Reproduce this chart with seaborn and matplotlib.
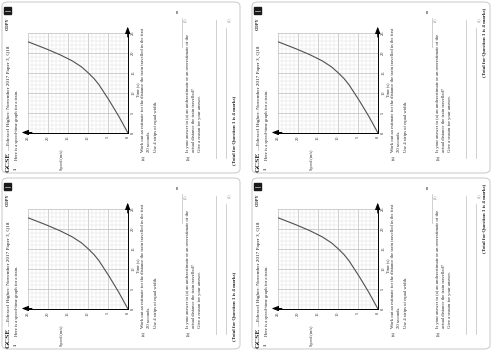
import matplotlib
matplotlib.use("Agg")
import matplotlib.pyplot as plt
import seaborn as sns
from matplotlib.patches import FancyBboxPatch, Rectangle
from matplotlib.lines import Line2D

# ---- data ----
time_s = [0, 2, 4, 6, 8, 10, 12, 13.5, 15, 16.5, 18, 19.5, 21, 22.8]
speed_ms = [0, 1.1, 2.2, 3.4, 4.6, 5.9, 7.2, 8.4, 9.9, 11.6, 13.9, 16.9, 20.4, 25.0]
tick_values = [0, 5, 10, 15, 20, 25]
tick_labels = ["0", "5", "10", "15", "20", "25"]

header_left = "GCSE"
header_main = "Edexcel Higher: November 2017 Paper 3, Q18"
copy_label = "COPY"
q_number = "1"
intro = "Here is a speed-time graph for a train."
xlabel_text = "Speed (m/s)"
ylabel_text = "Time (s)"
part_a = ["Work out an estimate for the distance the train travelled in the first",
          "20 seconds.",
          "Use 4 strips of equal width."]
part_b = ["Is your answer to (a) an underestimate or an overestimate of the",
          "actual distance the train travelled?",
          "Give a reason for your answer."]
total_text = "(Total for Question 1 is 4 marks)"

W, H = 500, 353
fig = plt.figure(figsize=(W / 100, H / 100), dpi=100)
fig.patch.set_facecolor("white")
SERIF = ["Liberation Serif", "DejaVu Serif"]


def fx(x):
    return x / W


def fy(y):
    return 1 - y / H


def T(x, y, s, size=3.3, weight="normal", ha="left", color="#222222"):
    fig.text(fx(x), fy(y), s, rotation=90, rotation_mode="anchor", ha=ha,
             va="center", fontsize=size, fontweight=weight, family=SERIF,
             color=color)


def vline(x, y0, y1, color="#c8c8c8", lw=0.6):
    fig.add_artist(Line2D([fx(x), fx(x)], [fy(y0), fy(y1)], color=color,
                          lw=lw, transform=fig.transFigure))


offsets = [(0, 0), (250, 0), (0, 176), (250, 176)]

for i, (ox, oy) in enumerate(offsets):
    # page border
    fig.add_artist(FancyBboxPatch((fx(ox + 2), fy(oy + 173)),
                                  fx(238), 171 / H,
                                  boxstyle="round,pad=0,rounding_size=0.012",
                                  transform=fig.transFigure, fill=False,
                                  edgecolor="#cfcfcf", lw=0.8))
    # icon
    fig.add_artist(Rectangle((fx(ox + 4), fy(oy + 14)), 7 / W, 7 / H,
                             transform=fig.transFigure, color="#1a1a1a"))
    fig.add_artist(Line2D([fx(ox + 5), fx(ox + 10)], [fy(oy + 11)] * 2,
                          color="white", lw=0.4, transform=fig.transFigure))
    T(ox + 7.5, oy + 17, copy_label, size=3.2, weight="bold", ha="right")
    # header
    T(ox + 8, oy + 172, header_left, size=5.4, weight="bold")
    T(ox + 9, oy + 151, "\u2014", size=3.8)
    T(ox + 9, oy + 145, header_main, size=3.8)
    T(ox + 16, oy + 170, q_number, size=3.2, weight="bold")
    T(ox + 17, oy + 160, intro, size=3.3)

    # graph
    ax = fig.add_axes([fx(ox + 28), fy(oy + 132.5), 99.7 / W, 99.5 / H])
    ax.set_xlim(25, 0)
    ax.set_ylim(0, 25)
    ax.set_xticks(range(0, 26), minor=True)
    ax.set_yticks(range(0, 26), minor=True)
    ax.set_xticks(tick_values)
    ax.set_yticks(tick_values)
    ax.set_xticklabels(tick_labels, rotation=90, fontsize=3.2, family=SERIF)
    ax.set_yticklabels(tick_labels, rotation=90, fontsize=3.2, family=SERIF,
                       va="center")
    ax.yaxis.tick_right()
    ax.tick_params(which="both", length=0, pad=2.5, colors="#222222")
    ax.grid(which="minor", color="#e2e2e2", lw=0.35)
    ax.grid(which="major", color="#bcbcbc", lw=0.5)
    ax.set_axisbelow(True)
    for side in ("top", "left"):
        ax.spines[side].set_visible(False)
    ax.spines["right"].set_linewidth(0.7)
    ax.spines["bottom"].set_linewidth(0.7)
    sns.lineplot(x=speed_ms, y=time_s, sort=False, estimator=None, ax=ax,
                 color="#505050", lw=0.8)
    ax.set_xlabel("")
    ax.set_ylabel("")
    ax.annotate("", xy=(0, 26.6), xytext=(0, 24), annotation_clip=False,
                arrowprops=dict(arrowstyle="-|>,head_length=0.4,head_width=0.15",
                                lw=0.7, color="black", shrinkA=0, shrinkB=0))
    ax.annotate("", xy=(26.6, 0), xytext=(24, 0), annotation_clip=False,
                arrowprops=dict(arrowstyle="-|>,head_length=0.4,head_width=0.15",
                                lw=0.7, color="black", shrinkA=0, shrinkB=0))
    T(ox + 62, oy + 160, xlabel_text, size=3.1, ha="center")
    T(ox + 138.5, oy + 90, ylabel_text, size=3.1, ha="center")

    # part (a)
    T(ox + 143.5, oy + 160, "(a)", size=3.3)
    T(ox + 143.5, oy + 152, part_a[0], size=3.3)
    T(ox + 149.5, oy + 152, part_a[1], size=3.3)
    T(ox + 155.5, oy + 152, part_a[2], size=3.3)
    T(ox + 178, oy + 10, "m", size=3.1, ha="right")
    vline(ox + 181.5, oy + 18, oy + 47)
    T(ox + 185, oy + 18, "(3)", size=2.9, ha="right", color="#888888")

    # part (b)
    T(ox + 188, oy + 160, "(b)", size=3.3)
    T(ox + 188, oy + 152, part_b[0], size=3.3)
    T(ox + 194, oy + 152, part_b[1], size=3.3)
    T(ox + 200, oy + 152, part_b[2], size=3.3)
    vline(ox + 216, oy + 20, oy + 158)
    vline(ox + 226, oy + 28, oy + 158)
    T(ox + 228.5, oy + 17, "(1)", size=2.9, ha="right", color="#888888")
    if ox == 0:
        T(ox + 234, oy + 165, total_text, size=3.6, weight="bold", ha="left")
    else:
        T(ox + 234, oy + 8, total_text, size=3.6, weight="bold", ha="right")

fig.savefig("out.png", dpi=100, facecolor="white")
